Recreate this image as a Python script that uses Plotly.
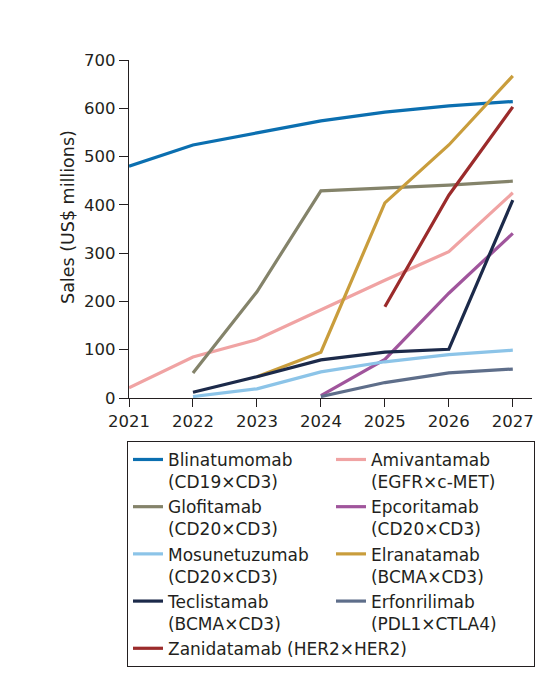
import plotly.graph_objects as go

years = [2021, 2022, 2023, 2024, 2025, 2026, 2027]

blinatumomab = [480, 524, 549, 574, 592, 605, 614]
amivantamab = [21, 85, 121, 182, 244, 303, 425]
glofitamab = [None, 52, 220, 429, 435, 441, 449]
epcoritamab = [None, None, None, 5, 80, 217, 341]
mosunetuzumab = [None, 3, 19, 54, 75, 90, 99]
elranatamab = [None, None, 44, 95, 404, 524, 667]
teclistamab = [None, 12, 44, 79, 95, 101, 410]
erfonrilimab = [None, None, None, 3, 32, 52, 60]
zanidatamab = [None, None, None, None, 189, 420, 603]

names = [
    "Blinatumomab<br>(CD19×CD3)",
    "Amivantamab<br>(EGFR×c-MET)",
    "Glofitamab<br>(CD20×CD3)",
    "Epcoritamab<br>(CD20×CD3)",
    "Mosunetuzumab<br>(CD20×CD3)",
    "Elranatamab<br>(BCMA×CD3)",
    "Teclistamab<br>(BCMA×CD3)",
    "Erfonrilimab<br>(PDL1×CTLA4)",
    "Zanidatamab (HER2×HER2)",
]
series = [blinatumomab, amivantamab, glofitamab, epcoritamab, mosunetuzumab,
          elranatamab, teclistamab, erfonrilimab, zanidatamab]
colors = ["#0b6fb0", "#f0a3a3", "#84836a", "#a0559c", "#8cc4e8",
          "#c99d3c", "#1c2a4a", "#5e6e8a", "#9b2b2b"]

TXT = "#231f20"
FONT = "DejaVu Sans"

fig = go.Figure()
for n, s, c in zip(names, series, colors):
    fig.add_trace(go.Scatter(x=years, y=s, name=n, mode="lines",
                             line=dict(color=c, width=3.2), connectgaps=False))

fig.update_layout(
    width=544, height=679,
    margin=dict(l=121, r=20, t=52, b=289, autoexpand=False),
    paper_bgcolor="white", plot_bgcolor="white",
    font=dict(family=FONT, color=TXT, size=16),
    xaxis=dict(range=[2021, 2027.3], tickmode="linear", tick0=2021, dtick=1,
               showline=True, linecolor=TXT, linewidth=1.2, ticks="outside",
               ticklen=8, tickcolor=TXT, showgrid=False, zeroline=False,
               tickfont=dict(size=16.5, family=FONT, color=TXT)),
    yaxis=dict(range=[0, 700], tickmode="linear", tick0=0, dtick=100,
               showline=True, linecolor=TXT, linewidth=1.2, ticks="outside",
               ticklen=9, tickcolor=TXT, showgrid=False, zeroline=False,
               tickfont=dict(size=16.5, family=FONT, color=TXT)),
    legend=dict(orientation="h", xref="paper", x=-0.005, xanchor="left",
                yref="paper", y=-0.127, yanchor="top",
                entrywidth=158, entrywidthmode="pixels", valign="top",
                bordercolor=TXT, borderwidth=1, bgcolor="white",
                font=dict(size=17, family=FONT, color=TXT), traceorder="normal",
                tracegroupgap=0),
    showlegend=True,
    annotations=[dict(text="Sales (US$ millions)", textangle=-90, xref="paper",
                      yref="paper", x=-0.151, y=0.536, xanchor="center",
                      yanchor="middle", showarrow=False,
                      font=dict(size=17.5, family=FONT, color=TXT))],
)

fig.write_html("out.html")
